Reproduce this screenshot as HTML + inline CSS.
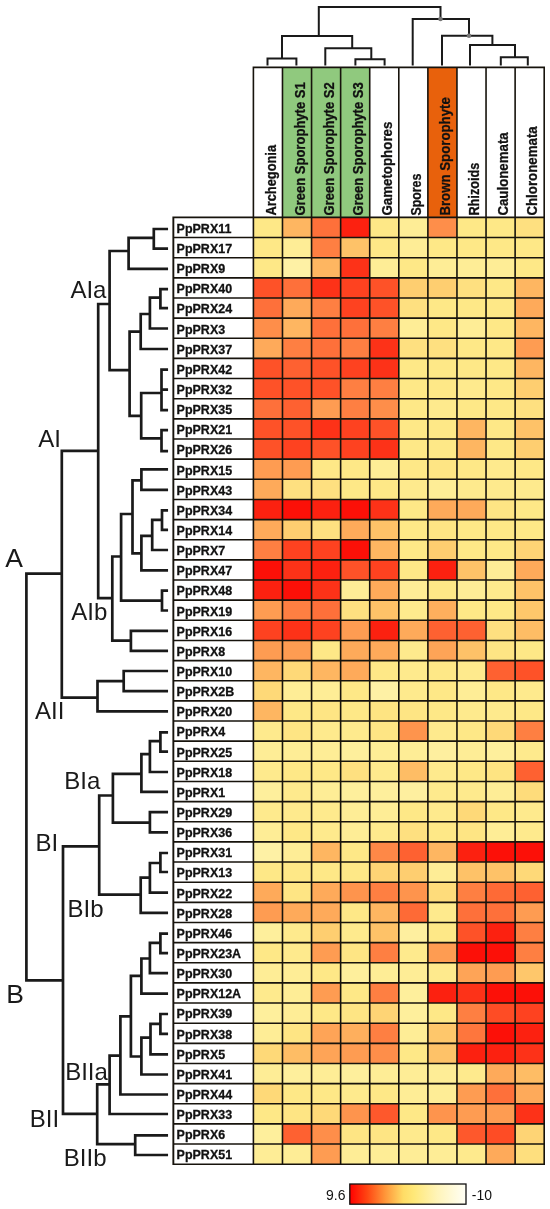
<!DOCTYPE html>
<html lang="en"><head><meta charset="utf-8"><title>PpPRX expression heatmap</title>
<style>html,body{margin:0;padding:0;background:#fff}body{width:550px;height:1209px;overflow:hidden}svg{display:block}</style>
</head><body>
<svg width="550" height="1209" viewBox="0 0 550 1209">
<rect width="550" height="1209" fill="#fff"/>
<g id="cells" shape-rendering="auto">
<rect x="253.40" y="217.40" width="29.08" height="20.14" fill="#fee887"/>
<rect x="282.48" y="217.40" width="29.08" height="20.14" fill="#feb661"/>
<rect x="311.56" y="217.40" width="29.08" height="20.14" fill="#fe703a"/>
<rect x="340.64" y="217.40" width="29.08" height="20.14" fill="#fc2110"/>
<rect x="369.72" y="217.40" width="29.08" height="20.14" fill="#fee887"/>
<rect x="398.80" y="217.40" width="29.08" height="20.14" fill="#feed96"/>
<rect x="427.88" y="217.40" width="29.08" height="20.14" fill="#fe8e4a"/>
<rect x="456.96" y="217.40" width="29.08" height="20.14" fill="#fee887"/>
<rect x="486.04" y="217.40" width="29.08" height="20.14" fill="#fee887"/>
<rect x="515.12" y="217.40" width="29.08" height="20.14" fill="#fee080"/>
<rect x="253.40" y="237.55" width="29.08" height="20.14" fill="#fee887"/>
<rect x="282.48" y="237.55" width="29.08" height="20.14" fill="#feed96"/>
<rect x="311.56" y="237.55" width="29.08" height="20.14" fill="#fe7f42"/>
<rect x="340.64" y="237.55" width="29.08" height="20.14" fill="#fec268"/>
<rect x="369.72" y="237.55" width="29.08" height="20.14" fill="#fee887"/>
<rect x="398.80" y="237.55" width="29.08" height="20.14" fill="#feed96"/>
<rect x="427.88" y="237.55" width="29.08" height="20.14" fill="#fee887"/>
<rect x="456.96" y="237.55" width="29.08" height="20.14" fill="#fee887"/>
<rect x="486.04" y="237.55" width="29.08" height="20.14" fill="#fee887"/>
<rect x="515.12" y="237.55" width="29.08" height="20.14" fill="#fee887"/>
<rect x="253.40" y="257.69" width="29.08" height="20.14" fill="#fee887"/>
<rect x="282.48" y="257.69" width="29.08" height="20.14" fill="#fef1a5"/>
<rect x="311.56" y="257.69" width="29.08" height="20.14" fill="#feb661"/>
<rect x="340.64" y="257.69" width="29.08" height="20.14" fill="#fd3218"/>
<rect x="369.72" y="257.69" width="29.08" height="20.14" fill="#feed96"/>
<rect x="398.80" y="257.69" width="29.08" height="20.14" fill="#fee887"/>
<rect x="427.88" y="257.69" width="29.08" height="20.14" fill="#feed96"/>
<rect x="456.96" y="257.69" width="29.08" height="20.14" fill="#feed96"/>
<rect x="486.04" y="257.69" width="29.08" height="20.14" fill="#feed96"/>
<rect x="515.12" y="257.69" width="29.08" height="20.14" fill="#fee887"/>
<rect x="253.40" y="277.84" width="29.08" height="20.14" fill="#fe5228"/>
<rect x="282.48" y="277.84" width="29.08" height="20.14" fill="#fe703a"/>
<rect x="311.56" y="277.84" width="29.08" height="20.14" fill="#fd3218"/>
<rect x="340.64" y="277.84" width="29.08" height="20.14" fill="#fe4220"/>
<rect x="369.72" y="277.84" width="29.08" height="20.14" fill="#fe5228"/>
<rect x="398.80" y="277.84" width="29.08" height="20.14" fill="#fece70"/>
<rect x="427.88" y="277.84" width="29.08" height="20.14" fill="#fece70"/>
<rect x="456.96" y="277.84" width="29.08" height="20.14" fill="#fee080"/>
<rect x="486.04" y="277.84" width="29.08" height="20.14" fill="#fee887"/>
<rect x="515.12" y="277.84" width="29.08" height="20.14" fill="#feb661"/>
<rect x="253.40" y="297.98" width="29.08" height="20.14" fill="#fe703a"/>
<rect x="282.48" y="297.98" width="29.08" height="20.14" fill="#feaa5a"/>
<rect x="311.56" y="297.98" width="29.08" height="20.14" fill="#fe7f42"/>
<rect x="340.64" y="297.98" width="29.08" height="20.14" fill="#fe4220"/>
<rect x="369.72" y="297.98" width="29.08" height="20.14" fill="#fe5228"/>
<rect x="398.80" y="297.98" width="29.08" height="20.14" fill="#fee080"/>
<rect x="427.88" y="297.98" width="29.08" height="20.14" fill="#fee887"/>
<rect x="456.96" y="297.98" width="29.08" height="20.14" fill="#fee887"/>
<rect x="486.04" y="297.98" width="29.08" height="20.14" fill="#fee887"/>
<rect x="515.12" y="297.98" width="29.08" height="20.14" fill="#feaa5a"/>
<rect x="253.40" y="318.12" width="29.08" height="20.14" fill="#fe8e4a"/>
<rect x="282.48" y="318.12" width="29.08" height="20.14" fill="#feb661"/>
<rect x="311.56" y="318.12" width="29.08" height="20.14" fill="#fe703a"/>
<rect x="340.64" y="318.12" width="29.08" height="20.14" fill="#fe703a"/>
<rect x="369.72" y="318.12" width="29.08" height="20.14" fill="#fe7f42"/>
<rect x="398.80" y="318.12" width="29.08" height="20.14" fill="#feed96"/>
<rect x="427.88" y="318.12" width="29.08" height="20.14" fill="#fee887"/>
<rect x="456.96" y="318.12" width="29.08" height="20.14" fill="#feed96"/>
<rect x="486.04" y="318.12" width="29.08" height="20.14" fill="#fee887"/>
<rect x="515.12" y="318.12" width="29.08" height="20.14" fill="#feb661"/>
<rect x="253.40" y="338.27" width="29.08" height="20.14" fill="#feaa5a"/>
<rect x="282.48" y="338.27" width="29.08" height="20.14" fill="#fe7f42"/>
<rect x="311.56" y="338.27" width="29.08" height="20.14" fill="#fe703a"/>
<rect x="340.64" y="338.27" width="29.08" height="20.14" fill="#fe7f42"/>
<rect x="369.72" y="338.27" width="29.08" height="20.14" fill="#fd3218"/>
<rect x="398.80" y="338.27" width="29.08" height="20.14" fill="#fee080"/>
<rect x="427.88" y="338.27" width="29.08" height="20.14" fill="#fee080"/>
<rect x="456.96" y="338.27" width="29.08" height="20.14" fill="#fee887"/>
<rect x="486.04" y="338.27" width="29.08" height="20.14" fill="#fee887"/>
<rect x="515.12" y="338.27" width="29.08" height="20.14" fill="#fe9c52"/>
<rect x="253.40" y="358.41" width="29.08" height="20.14" fill="#fe5228"/>
<rect x="282.48" y="358.41" width="29.08" height="20.14" fill="#fe6131"/>
<rect x="311.56" y="358.41" width="29.08" height="20.14" fill="#fe5228"/>
<rect x="340.64" y="358.41" width="29.08" height="20.14" fill="#fe4220"/>
<rect x="369.72" y="358.41" width="29.08" height="20.14" fill="#fd3218"/>
<rect x="398.80" y="358.41" width="29.08" height="20.14" fill="#fee887"/>
<rect x="427.88" y="358.41" width="29.08" height="20.14" fill="#fee887"/>
<rect x="456.96" y="358.41" width="29.08" height="20.14" fill="#fee887"/>
<rect x="486.04" y="358.41" width="29.08" height="20.14" fill="#fee887"/>
<rect x="515.12" y="358.41" width="29.08" height="20.14" fill="#feb661"/>
<rect x="253.40" y="378.56" width="29.08" height="20.14" fill="#fe5228"/>
<rect x="282.48" y="378.56" width="29.08" height="20.14" fill="#fe5228"/>
<rect x="311.56" y="378.56" width="29.08" height="20.14" fill="#fe5228"/>
<rect x="340.64" y="378.56" width="29.08" height="20.14" fill="#fe7f42"/>
<rect x="369.72" y="378.56" width="29.08" height="20.14" fill="#fe7f42"/>
<rect x="398.80" y="378.56" width="29.08" height="20.14" fill="#fee887"/>
<rect x="427.88" y="378.56" width="29.08" height="20.14" fill="#fee887"/>
<rect x="456.96" y="378.56" width="29.08" height="20.14" fill="#feea8d"/>
<rect x="486.04" y="378.56" width="29.08" height="20.14" fill="#fee887"/>
<rect x="515.12" y="378.56" width="29.08" height="20.14" fill="#fece70"/>
<rect x="253.40" y="398.71" width="29.08" height="20.14" fill="#fe703a"/>
<rect x="282.48" y="398.71" width="29.08" height="20.14" fill="#fe6131"/>
<rect x="311.56" y="398.71" width="29.08" height="20.14" fill="#fe9c52"/>
<rect x="340.64" y="398.71" width="29.08" height="20.14" fill="#fe7f42"/>
<rect x="369.72" y="398.71" width="29.08" height="20.14" fill="#fe8e4a"/>
<rect x="398.80" y="398.71" width="29.08" height="20.14" fill="#fee887"/>
<rect x="427.88" y="398.71" width="29.08" height="20.14" fill="#feea8d"/>
<rect x="456.96" y="398.71" width="29.08" height="20.14" fill="#fee887"/>
<rect x="486.04" y="398.71" width="29.08" height="20.14" fill="#fee887"/>
<rect x="515.12" y="398.71" width="29.08" height="20.14" fill="#fee080"/>
<rect x="253.40" y="418.85" width="29.08" height="20.14" fill="#fe5228"/>
<rect x="282.48" y="418.85" width="29.08" height="20.14" fill="#fe5228"/>
<rect x="311.56" y="418.85" width="29.08" height="20.14" fill="#fd3218"/>
<rect x="340.64" y="418.85" width="29.08" height="20.14" fill="#fe4220"/>
<rect x="369.72" y="418.85" width="29.08" height="20.14" fill="#fe5228"/>
<rect x="398.80" y="418.85" width="29.08" height="20.14" fill="#fee887"/>
<rect x="427.88" y="418.85" width="29.08" height="20.14" fill="#fee887"/>
<rect x="456.96" y="418.85" width="29.08" height="20.14" fill="#feb661"/>
<rect x="486.04" y="418.85" width="29.08" height="20.14" fill="#fee887"/>
<rect x="515.12" y="418.85" width="29.08" height="20.14" fill="#fec268"/>
<rect x="253.40" y="439.00" width="29.08" height="20.14" fill="#fe5228"/>
<rect x="282.48" y="439.00" width="29.08" height="20.14" fill="#fe4220"/>
<rect x="311.56" y="439.00" width="29.08" height="20.14" fill="#fe5228"/>
<rect x="340.64" y="439.00" width="29.08" height="20.14" fill="#fe4220"/>
<rect x="369.72" y="439.00" width="29.08" height="20.14" fill="#fd3218"/>
<rect x="398.80" y="439.00" width="29.08" height="20.14" fill="#fee887"/>
<rect x="427.88" y="439.00" width="29.08" height="20.14" fill="#fee887"/>
<rect x="456.96" y="439.00" width="29.08" height="20.14" fill="#feb661"/>
<rect x="486.04" y="439.00" width="29.08" height="20.14" fill="#fee887"/>
<rect x="515.12" y="439.00" width="29.08" height="20.14" fill="#fece70"/>
<rect x="253.40" y="459.14" width="29.08" height="20.14" fill="#fe9c52"/>
<rect x="282.48" y="459.14" width="29.08" height="20.14" fill="#fe9c52"/>
<rect x="311.56" y="459.14" width="29.08" height="20.14" fill="#fee887"/>
<rect x="340.64" y="459.14" width="29.08" height="20.14" fill="#fee887"/>
<rect x="369.72" y="459.14" width="29.08" height="20.14" fill="#feed96"/>
<rect x="398.80" y="459.14" width="29.08" height="20.14" fill="#fee887"/>
<rect x="427.88" y="459.14" width="29.08" height="20.14" fill="#fee584"/>
<rect x="456.96" y="459.14" width="29.08" height="20.14" fill="#fee887"/>
<rect x="486.04" y="459.14" width="29.08" height="20.14" fill="#feea8d"/>
<rect x="515.12" y="459.14" width="29.08" height="20.14" fill="#fee887"/>
<rect x="253.40" y="479.28" width="29.08" height="20.14" fill="#feaa5a"/>
<rect x="282.48" y="479.28" width="29.08" height="20.14" fill="#fee080"/>
<rect x="311.56" y="479.28" width="29.08" height="20.14" fill="#fee080"/>
<rect x="340.64" y="479.28" width="29.08" height="20.14" fill="#fee887"/>
<rect x="369.72" y="479.28" width="29.08" height="20.14" fill="#fee887"/>
<rect x="398.80" y="479.28" width="29.08" height="20.14" fill="#feea8d"/>
<rect x="427.88" y="479.28" width="29.08" height="20.14" fill="#feed96"/>
<rect x="456.96" y="479.28" width="29.08" height="20.14" fill="#feea8d"/>
<rect x="486.04" y="479.28" width="29.08" height="20.14" fill="#feea8d"/>
<rect x="515.12" y="479.28" width="29.08" height="20.14" fill="#feea8d"/>
<rect x="253.40" y="499.43" width="29.08" height="20.14" fill="#fc2110"/>
<rect x="282.48" y="499.43" width="29.08" height="20.14" fill="#fc1008"/>
<rect x="311.56" y="499.43" width="29.08" height="20.14" fill="#fc2110"/>
<rect x="340.64" y="499.43" width="29.08" height="20.14" fill="#fc1008"/>
<rect x="369.72" y="499.43" width="29.08" height="20.14" fill="#fd3218"/>
<rect x="398.80" y="499.43" width="29.08" height="20.14" fill="#fee887"/>
<rect x="427.88" y="499.43" width="29.08" height="20.14" fill="#feaa5a"/>
<rect x="456.96" y="499.43" width="29.08" height="20.14" fill="#feaa5a"/>
<rect x="486.04" y="499.43" width="29.08" height="20.14" fill="#fee584"/>
<rect x="515.12" y="499.43" width="29.08" height="20.14" fill="#fee887"/>
<rect x="253.40" y="519.58" width="29.08" height="20.14" fill="#feaa5a"/>
<rect x="282.48" y="519.58" width="29.08" height="20.14" fill="#fece70"/>
<rect x="311.56" y="519.58" width="29.08" height="20.14" fill="#fee080"/>
<rect x="340.64" y="519.58" width="29.08" height="20.14" fill="#feaa5a"/>
<rect x="369.72" y="519.58" width="29.08" height="20.14" fill="#fec268"/>
<rect x="398.80" y="519.58" width="29.08" height="20.14" fill="#fee887"/>
<rect x="427.88" y="519.58" width="29.08" height="20.14" fill="#fee584"/>
<rect x="456.96" y="519.58" width="29.08" height="20.14" fill="#fee887"/>
<rect x="486.04" y="519.58" width="29.08" height="20.14" fill="#fee887"/>
<rect x="515.12" y="519.58" width="29.08" height="20.14" fill="#fee887"/>
<rect x="253.40" y="539.72" width="29.08" height="20.14" fill="#fe7f42"/>
<rect x="282.48" y="539.72" width="29.08" height="20.14" fill="#fe4220"/>
<rect x="311.56" y="539.72" width="29.08" height="20.14" fill="#fe4220"/>
<rect x="340.64" y="539.72" width="29.08" height="20.14" fill="#fc1008"/>
<rect x="369.72" y="539.72" width="29.08" height="20.14" fill="#feb661"/>
<rect x="398.80" y="539.72" width="29.08" height="20.14" fill="#fee887"/>
<rect x="427.88" y="539.72" width="29.08" height="20.14" fill="#fece70"/>
<rect x="456.96" y="539.72" width="29.08" height="20.14" fill="#fee887"/>
<rect x="486.04" y="539.72" width="29.08" height="20.14" fill="#fee887"/>
<rect x="515.12" y="539.72" width="29.08" height="20.14" fill="#fed475"/>
<rect x="253.40" y="559.87" width="29.08" height="20.14" fill="#fc1008"/>
<rect x="282.48" y="559.87" width="29.08" height="20.14" fill="#fd3218"/>
<rect x="311.56" y="559.87" width="29.08" height="20.14" fill="#fc2110"/>
<rect x="340.64" y="559.87" width="29.08" height="20.14" fill="#fe5228"/>
<rect x="369.72" y="559.87" width="29.08" height="20.14" fill="#fe4220"/>
<rect x="398.80" y="559.87" width="29.08" height="20.14" fill="#fee887"/>
<rect x="427.88" y="559.87" width="29.08" height="20.14" fill="#fc2110"/>
<rect x="456.96" y="559.87" width="29.08" height="20.14" fill="#fec268"/>
<rect x="486.04" y="559.87" width="29.08" height="20.14" fill="#feed96"/>
<rect x="515.12" y="559.87" width="29.08" height="20.14" fill="#feaa5a"/>
<rect x="253.40" y="580.01" width="29.08" height="20.14" fill="#fc2110"/>
<rect x="282.48" y="580.01" width="29.08" height="20.14" fill="#fc1008"/>
<rect x="311.56" y="580.01" width="29.08" height="20.14" fill="#fd3218"/>
<rect x="340.64" y="580.01" width="29.08" height="20.14" fill="#feed96"/>
<rect x="369.72" y="580.01" width="29.08" height="20.14" fill="#feaa5a"/>
<rect x="398.80" y="580.01" width="29.08" height="20.14" fill="#feed96"/>
<rect x="427.88" y="580.01" width="29.08" height="20.14" fill="#fee887"/>
<rect x="456.96" y="580.01" width="29.08" height="20.14" fill="#feed96"/>
<rect x="486.04" y="580.01" width="29.08" height="20.14" fill="#feea8d"/>
<rect x="515.12" y="580.01" width="29.08" height="20.14" fill="#fec268"/>
<rect x="253.40" y="600.15" width="29.08" height="20.14" fill="#fe9c52"/>
<rect x="282.48" y="600.15" width="29.08" height="20.14" fill="#fe7f42"/>
<rect x="311.56" y="600.15" width="29.08" height="20.14" fill="#fe703a"/>
<rect x="340.64" y="600.15" width="29.08" height="20.14" fill="#fee080"/>
<rect x="369.72" y="600.15" width="29.08" height="20.14" fill="#fec268"/>
<rect x="398.80" y="600.15" width="29.08" height="20.14" fill="#feea8d"/>
<rect x="427.88" y="600.15" width="29.08" height="20.14" fill="#feaf5d"/>
<rect x="456.96" y="600.15" width="29.08" height="20.14" fill="#fee887"/>
<rect x="486.04" y="600.15" width="29.08" height="20.14" fill="#fee887"/>
<rect x="515.12" y="600.15" width="29.08" height="20.14" fill="#fec76b"/>
<rect x="253.40" y="620.30" width="29.08" height="20.14" fill="#fe4220"/>
<rect x="282.48" y="620.30" width="29.08" height="20.14" fill="#fd3218"/>
<rect x="311.56" y="620.30" width="29.08" height="20.14" fill="#fe4220"/>
<rect x="340.64" y="620.30" width="29.08" height="20.14" fill="#fe9c52"/>
<rect x="369.72" y="620.30" width="29.08" height="20.14" fill="#fc2110"/>
<rect x="398.80" y="620.30" width="29.08" height="20.14" fill="#feaa5a"/>
<rect x="427.88" y="620.30" width="29.08" height="20.14" fill="#fe6131"/>
<rect x="456.96" y="620.30" width="29.08" height="20.14" fill="#fe6131"/>
<rect x="486.04" y="620.30" width="29.08" height="20.14" fill="#fee080"/>
<rect x="515.12" y="620.30" width="29.08" height="20.14" fill="#febd65"/>
<rect x="253.40" y="640.45" width="29.08" height="20.14" fill="#fe9c52"/>
<rect x="282.48" y="640.45" width="29.08" height="20.14" fill="#fe9c52"/>
<rect x="311.56" y="640.45" width="29.08" height="20.14" fill="#fee887"/>
<rect x="340.64" y="640.45" width="29.08" height="20.14" fill="#feaa5a"/>
<rect x="369.72" y="640.45" width="29.08" height="20.14" fill="#feaa5a"/>
<rect x="398.80" y="640.45" width="29.08" height="20.14" fill="#feea8d"/>
<rect x="427.88" y="640.45" width="29.08" height="20.14" fill="#fea457"/>
<rect x="456.96" y="640.45" width="29.08" height="20.14" fill="#fec268"/>
<rect x="486.04" y="640.45" width="29.08" height="20.14" fill="#fee584"/>
<rect x="515.12" y="640.45" width="29.08" height="20.14" fill="#fee887"/>
<rect x="253.40" y="660.59" width="29.08" height="20.14" fill="#feb661"/>
<rect x="282.48" y="660.59" width="29.08" height="20.14" fill="#fed978"/>
<rect x="311.56" y="660.59" width="29.08" height="20.14" fill="#feb661"/>
<rect x="340.64" y="660.59" width="29.08" height="20.14" fill="#feaa5a"/>
<rect x="369.72" y="660.59" width="29.08" height="20.14" fill="#fee887"/>
<rect x="398.80" y="660.59" width="29.08" height="20.14" fill="#feea8d"/>
<rect x="427.88" y="660.59" width="29.08" height="20.14" fill="#fee887"/>
<rect x="456.96" y="660.59" width="29.08" height="20.14" fill="#feea8d"/>
<rect x="486.04" y="660.59" width="29.08" height="20.14" fill="#fe6131"/>
<rect x="515.12" y="660.59" width="29.08" height="20.14" fill="#fe5228"/>
<rect x="253.40" y="680.74" width="29.08" height="20.14" fill="#fed978"/>
<rect x="282.48" y="680.74" width="29.08" height="20.14" fill="#feed96"/>
<rect x="311.56" y="680.74" width="29.08" height="20.14" fill="#feed96"/>
<rect x="340.64" y="680.74" width="29.08" height="20.14" fill="#fee887"/>
<rect x="369.72" y="680.74" width="29.08" height="20.14" fill="#fef1a5"/>
<rect x="398.80" y="680.74" width="29.08" height="20.14" fill="#feea8d"/>
<rect x="427.88" y="680.74" width="29.08" height="20.14" fill="#fee887"/>
<rect x="456.96" y="680.74" width="29.08" height="20.14" fill="#feed96"/>
<rect x="486.04" y="680.74" width="29.08" height="20.14" fill="#fee887"/>
<rect x="515.12" y="680.74" width="29.08" height="20.14" fill="#feea8d"/>
<rect x="253.40" y="700.88" width="29.08" height="20.14" fill="#feb661"/>
<rect x="282.48" y="700.88" width="29.08" height="20.14" fill="#fee887"/>
<rect x="311.56" y="700.88" width="29.08" height="20.14" fill="#fee584"/>
<rect x="340.64" y="700.88" width="29.08" height="20.14" fill="#fee887"/>
<rect x="369.72" y="700.88" width="29.08" height="20.14" fill="#fee482"/>
<rect x="398.80" y="700.88" width="29.08" height="20.14" fill="#fee584"/>
<rect x="427.88" y="700.88" width="29.08" height="20.14" fill="#fee887"/>
<rect x="456.96" y="700.88" width="29.08" height="20.14" fill="#feea8d"/>
<rect x="486.04" y="700.88" width="29.08" height="20.14" fill="#feea8d"/>
<rect x="515.12" y="700.88" width="29.08" height="20.14" fill="#fee887"/>
<rect x="253.40" y="721.02" width="29.08" height="20.14" fill="#feea8d"/>
<rect x="282.48" y="721.02" width="29.08" height="20.14" fill="#fee584"/>
<rect x="311.56" y="721.02" width="29.08" height="20.14" fill="#feea8d"/>
<rect x="340.64" y="721.02" width="29.08" height="20.14" fill="#feea8d"/>
<rect x="369.72" y="721.02" width="29.08" height="20.14" fill="#fee584"/>
<rect x="398.80" y="721.02" width="29.08" height="20.14" fill="#fe944d"/>
<rect x="427.88" y="721.02" width="29.08" height="20.14" fill="#feea8d"/>
<rect x="456.96" y="721.02" width="29.08" height="20.14" fill="#fee887"/>
<rect x="486.04" y="721.02" width="29.08" height="20.14" fill="#fed978"/>
<rect x="515.12" y="721.02" width="29.08" height="20.14" fill="#fe7f42"/>
<rect x="253.40" y="741.17" width="29.08" height="20.14" fill="#feed96"/>
<rect x="282.48" y="741.17" width="29.08" height="20.14" fill="#feed96"/>
<rect x="311.56" y="741.17" width="29.08" height="20.14" fill="#feed96"/>
<rect x="340.64" y="741.17" width="29.08" height="20.14" fill="#feef9c"/>
<rect x="369.72" y="741.17" width="29.08" height="20.14" fill="#feed96"/>
<rect x="398.80" y="741.17" width="29.08" height="20.14" fill="#feed96"/>
<rect x="427.88" y="741.17" width="29.08" height="20.14" fill="#feef9f"/>
<rect x="456.96" y="741.17" width="29.08" height="20.14" fill="#feed96"/>
<rect x="486.04" y="741.17" width="29.08" height="20.14" fill="#feef9c"/>
<rect x="515.12" y="741.17" width="29.08" height="20.14" fill="#feea8d"/>
<rect x="253.40" y="761.31" width="29.08" height="20.14" fill="#feea8d"/>
<rect x="282.48" y="761.31" width="29.08" height="20.14" fill="#fee887"/>
<rect x="311.56" y="761.31" width="29.08" height="20.14" fill="#fee887"/>
<rect x="340.64" y="761.31" width="29.08" height="20.14" fill="#fee080"/>
<rect x="369.72" y="761.31" width="29.08" height="20.14" fill="#feea8d"/>
<rect x="398.80" y="761.31" width="29.08" height="20.14" fill="#febd65"/>
<rect x="427.88" y="761.31" width="29.08" height="20.14" fill="#feea8d"/>
<rect x="456.96" y="761.31" width="29.08" height="20.14" fill="#fee887"/>
<rect x="486.04" y="761.31" width="29.08" height="20.14" fill="#fee482"/>
<rect x="515.12" y="761.31" width="29.08" height="20.14" fill="#fe6131"/>
<rect x="253.40" y="781.46" width="29.08" height="20.14" fill="#feef9c"/>
<rect x="282.48" y="781.46" width="29.08" height="20.14" fill="#feea8d"/>
<rect x="311.56" y="781.46" width="29.08" height="20.14" fill="#feed96"/>
<rect x="340.64" y="781.46" width="29.08" height="20.14" fill="#feef9c"/>
<rect x="369.72" y="781.46" width="29.08" height="20.14" fill="#feef9c"/>
<rect x="398.80" y="781.46" width="29.08" height="20.14" fill="#feef9f"/>
<rect x="427.88" y="781.46" width="29.08" height="20.14" fill="#feea8d"/>
<rect x="456.96" y="781.46" width="29.08" height="20.14" fill="#feea8d"/>
<rect x="486.04" y="781.46" width="29.08" height="20.14" fill="#feed96"/>
<rect x="515.12" y="781.46" width="29.08" height="20.14" fill="#fedc7b"/>
<rect x="253.40" y="801.61" width="29.08" height="20.14" fill="#feea8d"/>
<rect x="282.48" y="801.61" width="29.08" height="20.14" fill="#feea8d"/>
<rect x="311.56" y="801.61" width="29.08" height="20.14" fill="#feea8d"/>
<rect x="340.64" y="801.61" width="29.08" height="20.14" fill="#feed96"/>
<rect x="369.72" y="801.61" width="29.08" height="20.14" fill="#feed96"/>
<rect x="398.80" y="801.61" width="29.08" height="20.14" fill="#fee887"/>
<rect x="427.88" y="801.61" width="29.08" height="20.14" fill="#feea8d"/>
<rect x="456.96" y="801.61" width="29.08" height="20.14" fill="#fed978"/>
<rect x="486.04" y="801.61" width="29.08" height="20.14" fill="#fee887"/>
<rect x="515.12" y="801.61" width="29.08" height="20.14" fill="#feea8d"/>
<rect x="253.40" y="821.75" width="29.08" height="20.14" fill="#feed96"/>
<rect x="282.48" y="821.75" width="29.08" height="20.14" fill="#fee887"/>
<rect x="311.56" y="821.75" width="29.08" height="20.14" fill="#feea8d"/>
<rect x="340.64" y="821.75" width="29.08" height="20.14" fill="#feed96"/>
<rect x="369.72" y="821.75" width="29.08" height="20.14" fill="#feea8d"/>
<rect x="398.80" y="821.75" width="29.08" height="20.14" fill="#fee080"/>
<rect x="427.88" y="821.75" width="29.08" height="20.14" fill="#fee887"/>
<rect x="456.96" y="821.75" width="29.08" height="20.14" fill="#fee584"/>
<rect x="486.04" y="821.75" width="29.08" height="20.14" fill="#feed96"/>
<rect x="515.12" y="821.75" width="29.08" height="20.14" fill="#feea8d"/>
<rect x="253.40" y="841.89" width="29.08" height="20.14" fill="#fef1a5"/>
<rect x="282.48" y="841.89" width="29.08" height="20.14" fill="#feed96"/>
<rect x="311.56" y="841.89" width="29.08" height="20.14" fill="#feb661"/>
<rect x="340.64" y="841.89" width="29.08" height="20.14" fill="#fee887"/>
<rect x="369.72" y="841.89" width="29.08" height="20.14" fill="#fe8847"/>
<rect x="398.80" y="841.89" width="29.08" height="20.14" fill="#fe6131"/>
<rect x="427.88" y="841.89" width="29.08" height="20.14" fill="#feb661"/>
<rect x="456.96" y="841.89" width="29.08" height="20.14" fill="#fc2110"/>
<rect x="486.04" y="841.89" width="29.08" height="20.14" fill="#fc1008"/>
<rect x="515.12" y="841.89" width="29.08" height="20.14" fill="#fc1008"/>
<rect x="253.40" y="862.04" width="29.08" height="20.14" fill="#fee887"/>
<rect x="282.48" y="862.04" width="29.08" height="20.14" fill="#fee887"/>
<rect x="311.56" y="862.04" width="29.08" height="20.14" fill="#fee887"/>
<rect x="340.64" y="862.04" width="29.08" height="20.14" fill="#fee887"/>
<rect x="369.72" y="862.04" width="29.08" height="20.14" fill="#fed475"/>
<rect x="398.80" y="862.04" width="29.08" height="20.14" fill="#fece70"/>
<rect x="427.88" y="862.04" width="29.08" height="20.14" fill="#feed96"/>
<rect x="456.96" y="862.04" width="29.08" height="20.14" fill="#fec268"/>
<rect x="486.04" y="862.04" width="29.08" height="20.14" fill="#fec268"/>
<rect x="515.12" y="862.04" width="29.08" height="20.14" fill="#fed978"/>
<rect x="253.40" y="882.18" width="29.08" height="20.14" fill="#feaa5a"/>
<rect x="282.48" y="882.18" width="29.08" height="20.14" fill="#fee584"/>
<rect x="311.56" y="882.18" width="29.08" height="20.14" fill="#feaa5a"/>
<rect x="340.64" y="882.18" width="29.08" height="20.14" fill="#fe944d"/>
<rect x="369.72" y="882.18" width="29.08" height="20.14" fill="#fe7f42"/>
<rect x="398.80" y="882.18" width="29.08" height="20.14" fill="#fe944d"/>
<rect x="427.88" y="882.18" width="29.08" height="20.14" fill="#fedc7b"/>
<rect x="456.96" y="882.18" width="29.08" height="20.14" fill="#fe7f42"/>
<rect x="486.04" y="882.18" width="29.08" height="20.14" fill="#fe6a36"/>
<rect x="515.12" y="882.18" width="29.08" height="20.14" fill="#fe6131"/>
<rect x="253.40" y="902.33" width="29.08" height="20.14" fill="#fe9c52"/>
<rect x="282.48" y="902.33" width="29.08" height="20.14" fill="#feaa5a"/>
<rect x="311.56" y="902.33" width="29.08" height="20.14" fill="#feaa5a"/>
<rect x="340.64" y="902.33" width="29.08" height="20.14" fill="#fee887"/>
<rect x="369.72" y="902.33" width="29.08" height="20.14" fill="#feb661"/>
<rect x="398.80" y="902.33" width="29.08" height="20.14" fill="#fe6a36"/>
<rect x="427.88" y="902.33" width="29.08" height="20.14" fill="#feea8d"/>
<rect x="456.96" y="902.33" width="29.08" height="20.14" fill="#fe703a"/>
<rect x="486.04" y="902.33" width="29.08" height="20.14" fill="#fe703a"/>
<rect x="515.12" y="902.33" width="29.08" height="20.14" fill="#fe9c52"/>
<rect x="253.40" y="922.47" width="29.08" height="20.14" fill="#feef9c"/>
<rect x="282.48" y="922.47" width="29.08" height="20.14" fill="#feea8d"/>
<rect x="311.56" y="922.47" width="29.08" height="20.14" fill="#fece70"/>
<rect x="340.64" y="922.47" width="29.08" height="20.14" fill="#feea8d"/>
<rect x="369.72" y="922.47" width="29.08" height="20.14" fill="#fec268"/>
<rect x="398.80" y="922.47" width="29.08" height="20.14" fill="#feef9f"/>
<rect x="427.88" y="922.47" width="29.08" height="20.14" fill="#fee887"/>
<rect x="456.96" y="922.47" width="29.08" height="20.14" fill="#fe5228"/>
<rect x="486.04" y="922.47" width="29.08" height="20.14" fill="#fc2110"/>
<rect x="515.12" y="922.47" width="29.08" height="20.14" fill="#fe7f42"/>
<rect x="253.40" y="942.62" width="29.08" height="20.14" fill="#fee887"/>
<rect x="282.48" y="942.62" width="29.08" height="20.14" fill="#feea8d"/>
<rect x="311.56" y="942.62" width="29.08" height="20.14" fill="#fe9c52"/>
<rect x="340.64" y="942.62" width="29.08" height="20.14" fill="#fee584"/>
<rect x="369.72" y="942.62" width="29.08" height="20.14" fill="#fe7f42"/>
<rect x="398.80" y="942.62" width="29.08" height="20.14" fill="#feea8d"/>
<rect x="427.88" y="942.62" width="29.08" height="20.14" fill="#fe9c52"/>
<rect x="456.96" y="942.62" width="29.08" height="20.14" fill="#fc1008"/>
<rect x="486.04" y="942.62" width="29.08" height="20.14" fill="#fc1008"/>
<rect x="515.12" y="942.62" width="29.08" height="20.14" fill="#fe7f42"/>
<rect x="253.40" y="962.76" width="29.08" height="20.14" fill="#feed96"/>
<rect x="282.48" y="962.76" width="29.08" height="20.14" fill="#feed96"/>
<rect x="311.56" y="962.76" width="29.08" height="20.14" fill="#fee887"/>
<rect x="340.64" y="962.76" width="29.08" height="20.14" fill="#feef9c"/>
<rect x="369.72" y="962.76" width="29.08" height="20.14" fill="#feed96"/>
<rect x="398.80" y="962.76" width="29.08" height="20.14" fill="#feed96"/>
<rect x="427.88" y="962.76" width="29.08" height="20.14" fill="#feea8d"/>
<rect x="456.96" y="962.76" width="29.08" height="20.14" fill="#fea457"/>
<rect x="486.04" y="962.76" width="29.08" height="20.14" fill="#fe9c52"/>
<rect x="515.12" y="962.76" width="29.08" height="20.14" fill="#fec76b"/>
<rect x="253.40" y="982.91" width="29.08" height="20.14" fill="#feea8d"/>
<rect x="282.48" y="982.91" width="29.08" height="20.14" fill="#feed96"/>
<rect x="311.56" y="982.91" width="29.08" height="20.14" fill="#fe9c52"/>
<rect x="340.64" y="982.91" width="29.08" height="20.14" fill="#fee887"/>
<rect x="369.72" y="982.91" width="29.08" height="20.14" fill="#fe7f42"/>
<rect x="398.80" y="982.91" width="29.08" height="20.14" fill="#feef9c"/>
<rect x="427.88" y="982.91" width="29.08" height="20.14" fill="#fc2110"/>
<rect x="456.96" y="982.91" width="29.08" height="20.14" fill="#fd3218"/>
<rect x="486.04" y="982.91" width="29.08" height="20.14" fill="#fc1008"/>
<rect x="515.12" y="982.91" width="29.08" height="20.14" fill="#fc1008"/>
<rect x="253.40" y="1003.05" width="29.08" height="20.14" fill="#feef9c"/>
<rect x="282.48" y="1003.05" width="29.08" height="20.14" fill="#feed96"/>
<rect x="311.56" y="1003.05" width="29.08" height="20.14" fill="#fee887"/>
<rect x="340.64" y="1003.05" width="29.08" height="20.14" fill="#fee584"/>
<rect x="369.72" y="1003.05" width="29.08" height="20.14" fill="#fed475"/>
<rect x="398.80" y="1003.05" width="29.08" height="20.14" fill="#feef9c"/>
<rect x="427.88" y="1003.05" width="29.08" height="20.14" fill="#fee887"/>
<rect x="456.96" y="1003.05" width="29.08" height="20.14" fill="#fe7f42"/>
<rect x="486.04" y="1003.05" width="29.08" height="20.14" fill="#fe4c25"/>
<rect x="515.12" y="1003.05" width="29.08" height="20.14" fill="#fe4220"/>
<rect x="253.40" y="1023.20" width="29.08" height="20.14" fill="#feed96"/>
<rect x="282.48" y="1023.20" width="29.08" height="20.14" fill="#fee584"/>
<rect x="311.56" y="1023.20" width="29.08" height="20.14" fill="#fea457"/>
<rect x="340.64" y="1023.20" width="29.08" height="20.14" fill="#feaf5d"/>
<rect x="369.72" y="1023.20" width="29.08" height="20.14" fill="#fe7f42"/>
<rect x="398.80" y="1023.20" width="29.08" height="20.14" fill="#feed96"/>
<rect x="427.88" y="1023.20" width="29.08" height="20.14" fill="#fec76b"/>
<rect x="456.96" y="1023.20" width="29.08" height="20.14" fill="#fe763d"/>
<rect x="486.04" y="1023.20" width="29.08" height="20.14" fill="#fc1008"/>
<rect x="515.12" y="1023.20" width="29.08" height="20.14" fill="#fc2110"/>
<rect x="253.40" y="1043.35" width="29.08" height="20.14" fill="#fed978"/>
<rect x="282.48" y="1043.35" width="29.08" height="20.14" fill="#febd65"/>
<rect x="311.56" y="1043.35" width="29.08" height="20.14" fill="#fea457"/>
<rect x="340.64" y="1043.35" width="29.08" height="20.14" fill="#fe9c52"/>
<rect x="369.72" y="1043.35" width="29.08" height="20.14" fill="#fe8e4a"/>
<rect x="398.80" y="1043.35" width="29.08" height="20.14" fill="#fee887"/>
<rect x="427.88" y="1043.35" width="29.08" height="20.14" fill="#fec268"/>
<rect x="456.96" y="1043.35" width="29.08" height="20.14" fill="#fc2110"/>
<rect x="486.04" y="1043.35" width="29.08" height="20.14" fill="#fc2110"/>
<rect x="515.12" y="1043.35" width="29.08" height="20.14" fill="#fd3218"/>
<rect x="253.40" y="1063.49" width="29.08" height="20.14" fill="#feed96"/>
<rect x="282.48" y="1063.49" width="29.08" height="20.14" fill="#feef9c"/>
<rect x="311.56" y="1063.49" width="29.08" height="20.14" fill="#feed96"/>
<rect x="340.64" y="1063.49" width="29.08" height="20.14" fill="#feef9c"/>
<rect x="369.72" y="1063.49" width="29.08" height="20.14" fill="#feed96"/>
<rect x="398.80" y="1063.49" width="29.08" height="20.14" fill="#feed96"/>
<rect x="427.88" y="1063.49" width="29.08" height="20.14" fill="#feed96"/>
<rect x="456.96" y="1063.49" width="29.08" height="20.14" fill="#feea8d"/>
<rect x="486.04" y="1063.49" width="29.08" height="20.14" fill="#feaa5a"/>
<rect x="515.12" y="1063.49" width="29.08" height="20.14" fill="#febd65"/>
<rect x="253.40" y="1083.63" width="29.08" height="20.14" fill="#fed978"/>
<rect x="282.48" y="1083.63" width="29.08" height="20.14" fill="#fee887"/>
<rect x="311.56" y="1083.63" width="29.08" height="20.14" fill="#fee887"/>
<rect x="340.64" y="1083.63" width="29.08" height="20.14" fill="#feea8d"/>
<rect x="369.72" y="1083.63" width="29.08" height="20.14" fill="#fee887"/>
<rect x="398.80" y="1083.63" width="29.08" height="20.14" fill="#feed96"/>
<rect x="427.88" y="1083.63" width="29.08" height="20.14" fill="#feed96"/>
<rect x="456.96" y="1083.63" width="29.08" height="20.14" fill="#fe9c52"/>
<rect x="486.04" y="1083.63" width="29.08" height="20.14" fill="#fe703a"/>
<rect x="515.12" y="1083.63" width="29.08" height="20.14" fill="#feaa5a"/>
<rect x="253.40" y="1103.78" width="29.08" height="20.14" fill="#fee887"/>
<rect x="282.48" y="1103.78" width="29.08" height="20.14" fill="#fee584"/>
<rect x="311.56" y="1103.78" width="29.08" height="20.14" fill="#fed978"/>
<rect x="340.64" y="1103.78" width="29.08" height="20.14" fill="#fe944d"/>
<rect x="369.72" y="1103.78" width="29.08" height="20.14" fill="#fe582c"/>
<rect x="398.80" y="1103.78" width="29.08" height="20.14" fill="#fee887"/>
<rect x="427.88" y="1103.78" width="29.08" height="20.14" fill="#fe944d"/>
<rect x="456.96" y="1103.78" width="29.08" height="20.14" fill="#fe9c52"/>
<rect x="486.04" y="1103.78" width="29.08" height="20.14" fill="#fe9c52"/>
<rect x="515.12" y="1103.78" width="29.08" height="20.14" fill="#fd3218"/>
<rect x="253.40" y="1123.92" width="29.08" height="20.14" fill="#feef9c"/>
<rect x="282.48" y="1123.92" width="29.08" height="20.14" fill="#fe6131"/>
<rect x="311.56" y="1123.92" width="29.08" height="20.14" fill="#fe8e4a"/>
<rect x="340.64" y="1123.92" width="29.08" height="20.14" fill="#fee584"/>
<rect x="369.72" y="1123.92" width="29.08" height="20.14" fill="#fee584"/>
<rect x="398.80" y="1123.92" width="29.08" height="20.14" fill="#feea8d"/>
<rect x="427.88" y="1123.92" width="29.08" height="20.14" fill="#fee887"/>
<rect x="456.96" y="1123.92" width="29.08" height="20.14" fill="#fe582c"/>
<rect x="486.04" y="1123.92" width="29.08" height="20.14" fill="#fe4c25"/>
<rect x="515.12" y="1123.92" width="29.08" height="20.14" fill="#fed475"/>
<rect x="253.40" y="1144.07" width="29.08" height="20.14" fill="#feed96"/>
<rect x="282.48" y="1144.07" width="29.08" height="20.14" fill="#feed96"/>
<rect x="311.56" y="1144.07" width="29.08" height="20.14" fill="#fe9c52"/>
<rect x="340.64" y="1144.07" width="29.08" height="20.14" fill="#feed96"/>
<rect x="369.72" y="1144.07" width="29.08" height="20.14" fill="#feed96"/>
<rect x="398.80" y="1144.07" width="29.08" height="20.14" fill="#feed96"/>
<rect x="427.88" y="1144.07" width="29.08" height="20.14" fill="#feed96"/>
<rect x="456.96" y="1144.07" width="29.08" height="20.14" fill="#feea8d"/>
<rect x="486.04" y="1144.07" width="29.08" height="20.14" fill="#feaa5a"/>
<rect x="515.12" y="1144.07" width="29.08" height="20.14" fill="#fedf7e"/>
</g>
<rect x="282.48" y="67.4" width="29.08" height="150.00" fill="#90c97e"/>
<rect x="311.56" y="67.4" width="29.08" height="150.00" fill="#90c97e"/>
<rect x="340.64" y="67.4" width="29.08" height="150.00" fill="#90c97e"/>
<rect x="427.88" y="67.4" width="29.08" height="150.00" fill="#e8610c"/>
<path d="M253.40 67.4 V1164.21 M282.48 67.4 V1164.21 M311.56 67.4 V1164.21 M340.64 67.4 V1164.21 M369.72 67.4 V1164.21 M398.80 67.4 V1164.21 M427.88 67.4 V1164.21 M456.96 67.4 V1164.21 M486.04 67.4 V1164.21 M515.12 67.4 V1164.21 M544.20 67.4 V1164.21 M173.5 217.40 H544.20 M173.5 237.55 H544.20 M173.5 257.69 H544.20 M173.5 277.84 H544.20 M173.5 297.98 H544.20 M173.5 318.12 H544.20 M173.5 338.27 H544.20 M173.5 358.41 H544.20 M173.5 378.56 H544.20 M173.5 398.71 H544.20 M173.5 418.85 H544.20 M173.5 439.00 H544.20 M173.5 459.14 H544.20 M173.5 479.28 H544.20 M173.5 499.43 H544.20 M173.5 519.58 H544.20 M173.5 539.72 H544.20 M173.5 559.87 H544.20 M173.5 580.01 H544.20 M173.5 600.15 H544.20 M173.5 620.30 H544.20 M173.5 640.45 H544.20 M173.5 660.59 H544.20 M173.5 680.74 H544.20 M173.5 700.88 H544.20 M173.5 721.02 H544.20 M173.5 741.17 H544.20 M173.5 761.31 H544.20 M173.5 781.46 H544.20 M173.5 801.61 H544.20 M173.5 821.75 H544.20 M173.5 841.89 H544.20 M173.5 862.04 H544.20 M173.5 882.18 H544.20 M173.5 902.33 H544.20 M173.5 922.47 H544.20 M173.5 942.62 H544.20 M173.5 962.76 H544.20 M173.5 982.91 H544.20 M173.5 1003.05 H544.20 M173.5 1023.20 H544.20 M173.5 1043.35 H544.20 M173.5 1063.49 H544.20 M173.5 1083.63 H544.20 M173.5 1103.78 H544.20 M173.5 1123.92 H544.20 M173.5 1144.07 H544.20 M173.5 1164.21 H544.20 M173.5 217.40 V1164.21 M173.2 217.40 V1164.21 M253.40 67.4 H544.20" stroke="#17130c" stroke-width="1.6" fill="none" stroke-linecap="square"/>
<g font-family="'Liberation Sans', Arial, sans-serif" font-weight="700" font-size="12.9" fill="#111" stroke="#111" stroke-width="0.3">
<text transform="translate(176.6 232.80) scale(0.968 1)">PpPRX11</text>
<text transform="translate(176.6 252.95) scale(0.968 1)">PpPRX17</text>
<text transform="translate(176.6 273.09) scale(0.968 1)">PpPRX9</text>
<text transform="translate(176.6 293.24) scale(0.968 1)">PpPRX40</text>
<text transform="translate(176.6 313.38) scale(0.968 1)">PpPRX24</text>
<text transform="translate(176.6 333.52) scale(0.968 1)">PpPRX3</text>
<text transform="translate(176.6 353.67) scale(0.968 1)">PpPRX37</text>
<text transform="translate(176.6 373.81) scale(0.968 1)">PpPRX42</text>
<text transform="translate(176.6 393.96) scale(0.968 1)">PpPRX32</text>
<text transform="translate(176.6 414.11) scale(0.968 1)">PpPRX35</text>
<text transform="translate(176.6 434.25) scale(0.968 1)">PpPRX21</text>
<text transform="translate(176.6 454.39) scale(0.968 1)">PpPRX26</text>
<text transform="translate(176.6 474.54) scale(0.968 1)">PpPRX15</text>
<text transform="translate(176.6 494.68) scale(0.968 1)">PpPRX43</text>
<text transform="translate(176.6 514.83) scale(0.968 1)">PpPRX34</text>
<text transform="translate(176.6 534.98) scale(0.968 1)">PpPRX14</text>
<text transform="translate(176.6 555.12) scale(0.968 1)">PpPRX7</text>
<text transform="translate(176.6 575.26) scale(0.968 1)">PpPRX47</text>
<text transform="translate(176.6 595.41) scale(0.968 1)">PpPRX48</text>
<text transform="translate(176.6 615.55) scale(0.968 1)">PpPRX19</text>
<text transform="translate(176.6 635.70) scale(0.968 1)">PpPRX16</text>
<text transform="translate(176.6 655.85) scale(0.968 1)">PpPRX8</text>
<text transform="translate(176.6 675.99) scale(0.968 1)">PpPRX10</text>
<text transform="translate(176.6 696.13) scale(0.968 1)">PpPRX2B</text>
<text transform="translate(176.6 716.28) scale(0.968 1)">PpPRX20</text>
<text transform="translate(176.6 736.42) scale(0.968 1)">PpPRX4</text>
<text transform="translate(176.6 756.57) scale(0.968 1)">PpPRX25</text>
<text transform="translate(176.6 776.71) scale(0.968 1)">PpPRX18</text>
<text transform="translate(176.6 796.86) scale(0.968 1)">PpPRX1</text>
<text transform="translate(176.6 817.00) scale(0.968 1)">PpPRX29</text>
<text transform="translate(176.6 837.15) scale(0.968 1)">PpPRX36</text>
<text transform="translate(176.6 857.29) scale(0.968 1)">PpPRX31</text>
<text transform="translate(176.6 877.44) scale(0.968 1)">PpPRX13</text>
<text transform="translate(176.6 897.58) scale(0.968 1)">PpPRX22</text>
<text transform="translate(176.6 917.73) scale(0.968 1)">PpPRX28</text>
<text transform="translate(176.6 937.87) scale(0.968 1)">PpPRX46</text>
<text transform="translate(176.6 958.02) scale(0.968 1)">PpPRX23A</text>
<text transform="translate(176.6 978.16) scale(0.968 1)">PpPRX30</text>
<text transform="translate(176.6 998.31) scale(0.968 1)">PpPRX12A</text>
<text transform="translate(176.6 1018.45) scale(0.968 1)">PpPRX39</text>
<text transform="translate(176.6 1038.60) scale(0.968 1)">PpPRX38</text>
<text transform="translate(176.6 1058.75) scale(0.968 1)">PpPRX5</text>
<text transform="translate(176.6 1078.89) scale(0.968 1)">PpPRX41</text>
<text transform="translate(176.6 1099.04) scale(0.968 1)">PpPRX44</text>
<text transform="translate(176.6 1119.18) scale(0.968 1)">PpPRX33</text>
<text transform="translate(176.6 1139.33) scale(0.968 1)">PpPRX6</text>
<text transform="translate(176.6 1159.47) scale(0.968 1)">PpPRX51</text>
</g>
<g font-family="'Liberation Sans', Arial, sans-serif" font-weight="700" font-size="14.8" fill="#111" stroke="#111" stroke-width="0.3">
<text transform="translate(275.50 215.6) rotate(-90)" textLength="70.7" lengthAdjust="spacingAndGlyphs">Archegonia</text>
<text transform="translate(304.58 215.6) rotate(-90)" textLength="133.4" lengthAdjust="spacingAndGlyphs">Green Sporophyte S1</text>
<text transform="translate(333.66 215.6) rotate(-90)" textLength="133.4" lengthAdjust="spacingAndGlyphs">Green Sporophyte S2</text>
<text transform="translate(362.74 215.6) rotate(-90)" textLength="133.4" lengthAdjust="spacingAndGlyphs">Green Sporophyte S3</text>
<text transform="translate(391.82 215.6) rotate(-90)" textLength="94" lengthAdjust="spacingAndGlyphs">Gametophores</text>
<text transform="translate(420.90 215.6) rotate(-90)" textLength="42" lengthAdjust="spacingAndGlyphs">Spores</text>
<text transform="translate(449.98 215.6) rotate(-90)" textLength="118.4" lengthAdjust="spacingAndGlyphs">Brown Sporophyte</text>
<text transform="translate(479.06 215.6) rotate(-90)" textLength="53" lengthAdjust="spacingAndGlyphs">Rhizoids</text>
<text transform="translate(508.14 215.6) rotate(-90)" textLength="83.3" lengthAdjust="spacingAndGlyphs">Caulonemata</text>
<text transform="translate(537.22 215.6) rotate(-90)" textLength="89.3" lengthAdjust="spacingAndGlyphs">Chloronemata</text>
</g>
<path d="M318.8 7.1 H440.5 M318.8 7.1 V36 M282 36 H352.2 M282 36 V58.6 M267.5 58.6 H296.4 M267.5 58.6 V64.6 M296.4 58.6 V64.6 M352.2 36 V48.3 M325.3 48.3 H371.3 M325.3 48.3 V64.6 M371.3 48.3 V59.2 M355.4 59.2 H384.6 M355.4 59.2 V64.6 M384.6 59.2 V64.6 M440.5 7.1 V19 M412.7 19 H469 M412.7 19 V64.6 M469 19 V35.8 M442 35.8 H492.4 M442 35.8 V64.6 M492.4 35.8 V45 M470 45 H515 M470 45 V64.6 M515 45 V57.3 M500.8 57.3 H527.8 M500.8 57.3 V64.6 M527.8 57.3 V64.6" stroke="#1a1a1a" stroke-width="2" fill="none" stroke-linecap="square"/>
<circle cx="440.5" cy="19" r="2.3" fill="#777"/><circle cx="469" cy="35.8" r="2.3" fill="#777"/>
<path d="M153.8 229 H166.7 M153.8 248.6 H166.7 M153.8 229 V248.6 M128.6 237.8 H153.8 M128.6 237.8 V268.9 M128.6 268.9 H166.7 M109.6 251 H128.6 M160.4 289.2 H166.7 M160.4 308.2 H166.7 M160.4 289.2 V308.2 M149.9 297.7 H160.4 M149.9 297.7 V328.5 M149.9 328.5 H166.7 M140.7 314 H149.9 M140.7 314 V349 M140.7 349 H166.7 M129.6 331.7 H140.7 M129.6 331.7 V415.8 M109.6 370.2 H129.6 M109.6 251 V370.2 M98.2 304 H109.6 M161.5 369.6 V410.2 M161.5 369.6 H166.7 M161.5 389.6 H166.7 M161.5 410.2 H166.7 M141.2 393 H161.5 M161.5 430.2 V451.1 M161.5 430.2 H166.7 M161.5 451.1 H166.7 M141.2 438.4 H161.5 M141.2 393 V438.4 M129.6 415.8 H141.2 M98.2 304 V598.1 M61.8 450.8 H98.2 M141.4 469.3 V489.8 M141.4 469.3 H166.7 M141.4 489.8 H166.7 M132.5 480.3 H141.4 M162 510.3 V529.8 M162 510.3 H166.7 M162 529.8 H166.7 M152.2 519.9 H162 M152.2 519.9 V550 M152.2 550 H166.7 M141.4 535.9 H152.2 M141.4 535.9 V570.3 M141.4 570.3 H166.7 M132.5 553.3 H141.4 M132.5 480.3 V553.3 M121.1 514 H132.5 M162 590.6 V610.5 M162 590.6 H166.7 M162 610.5 H166.7 M121.1 600.7 H162 M121.1 514 V600.7 M112.3 556.5 H121.1 M130.9 630.8 V650.8 M130.9 630.8 H166.7 M130.9 650.8 H166.7 M112.3 640.7 H130.9 M112.3 556.5 V640.7 M98.2 598.1 H112.3 M61.8 450.8 V697.6 M26.4 573.7 H61.8 M123.7 671 V691.2 M123.7 671 H166.7 M123.7 691.2 H166.7 M97.5 681.2 H123.7 M97.5 681.2 V711.3 M97.5 711.3 H166.7 M61.8 697.6 H97.5 M26.4 573.7 V980.4 M160.4 732.3 V751.6 M160.4 732.3 H166.7 M160.4 751.6 H166.7 M149.9 741.1 H160.4 M149.9 741.1 V772 M149.9 772 H166.7 M141.4 754.2 H149.9 M141.4 754.2 V791.9 M141.4 791.9 H166.7 M112.9 773.8 H141.4 M149.9 812.2 V832.4 M149.9 812.2 H166.7 M149.9 832.4 H166.7 M112.9 822.7 H149.9 M112.9 773.8 V822.7 M99.2 795.5 H112.9 M99.2 795.5 V894.7 M63 846.3 H99.2 M160.4 853 V872 M160.4 853 H166.7 M160.4 872 H166.7 M149.9 863 H160.4 M149.9 863 V892.6 M149.9 892.6 H166.7 M140.7 877.7 H149.9 M140.7 877.7 V912.8 M140.7 912.8 H166.7 M99.2 894.7 H140.7 M63 846.3 V1113.8 M26.4 980.4 H63 M160.4 933.6 V953.2 M160.4 933.6 H166.7 M160.4 953.2 H166.7 M149.9 942.8 H160.4 M149.9 942.8 V973.2 M149.9 973.2 H166.7 M141.4 958.5 H149.9 M141.4 958.5 V993.7 M141.4 993.7 H166.7 M130.9 975.8 H141.4 M160.4 1014 V1033.8 M160.4 1014 H166.7 M160.4 1033.8 H166.7 M150.5 1023.8 H160.4 M150.5 1023.8 V1054.3 M150.5 1054.3 H166.7 M141.4 1037.6 H150.5 M141.4 1037.6 V1074.5 M141.4 1074.5 H166.7 M130.9 1056.5 H141.4 M130.9 975.8 V1056.5 M120.4 1016.3 H130.9 M120.4 1016.3 V1094.5 M120.4 1094.5 H166.7 M109.6 1055.6 H120.4 M109.6 1055.6 V1114 M109.6 1114 H166.7 M97.2 1084.4 H109.6 M135.2 1135.3 V1155 M135.2 1135.3 H166.7 M135.2 1155 H166.7 M97.2 1144.2 H135.2 M97.2 1084.4 V1144.2 M63 1113.8 H97.2" stroke="#1a1a1a" stroke-width="2.7" fill="none" stroke-linecap="square"/>
<g font-family="'Liberation Sans', Arial, sans-serif" font-size="24" fill="#1a1a1a">
<text x="70.4" y="298.4">AIa</text>
<text x="38.3" y="447.2">AI</text>
<text x="5.2" y="567.2" font-size="26.5">A</text>
<text x="71.3" y="619.7">AIb</text>
<text x="35.0" y="719.2">AII</text>
<text x="64.3" y="788.5">BIa</text>
<text x="35.5" y="850.5">BI</text>
<text x="67.5" y="917.0">BIb</text>
<text x="6.3" y="1003.2" font-size="26.5">B</text>
<text x="65.2" y="1080.4">BIIa</text>
<text x="29.8" y="1126.9">BII</text>
<text x="63.8" y="1166.0">BIIb</text>
</g>
<defs><linearGradient id="cb" x1="0" x2="1" y1="0" y2="0"><stop offset="0" stop-color="#ff0000"/><stop offset="0.15" stop-color="#ff4612"/><stop offset="0.3" stop-color="#ff9438"/><stop offset="0.46" stop-color="#ffdc66"/><stop offset="0.55" stop-color="#ffe878"/><stop offset="0.75" stop-color="#fff4b8"/><stop offset="1" stop-color="#fffff6"/></linearGradient></defs>
<rect x="349.8" y="1184" width="116.2" height="20.2" fill="url(#cb)" stroke="#111" stroke-width="1.3"/>
<g font-family="'Liberation Sans', Arial, sans-serif" font-size="15.2" fill="#111"><text transform="translate(326 1199.8) scale(0.92 1)">9.6</text><text transform="translate(471.8 1199.8) scale(0.92 1)">-10</text></g>
</svg>
</body></html>
